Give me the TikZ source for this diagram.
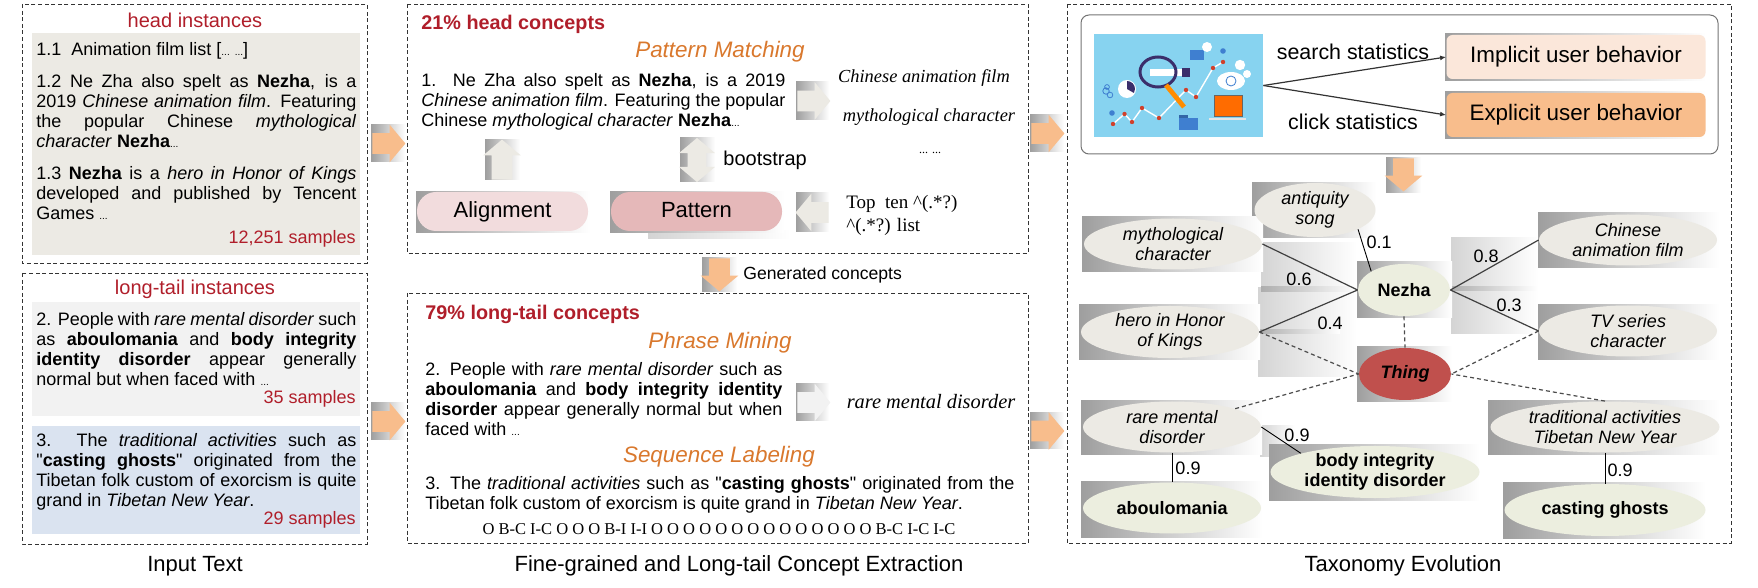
\documentclass[tikz,border=0pt]{standalone}
\usepackage{fontspec}
\setmainfont[Ligatures=TeXOff]{Liberation Sans}
\newfontfamily\timesfont{Liberation Serif}
\usepackage{pgf, tikz}
\usetikzlibrary{positioning, shapes.geometric, shapes.arrows, arrows.meta}

\definecolor{titlered}{HTML}{B01E2A}
\definecolor{stepor}{HTML}{D9782D}
\definecolor{headfill}{HTML}{ECEAE4}
\definecolor{tailfill}{HTML}{F2F2F2}
\definecolor{bluefill}{HTML}{DAE3F0}
\definecolor{peach}{HTML}{F8BD8C}
\definecolor{lightpeach}{HTML}{FBE7DA}
\definecolor{pillpale}{HTML}{F2DCDD}
\definecolor{pillrose}{HTML}{E5B8B9}
\definecolor{instgreen}{HTML}{ECEEDF}
\definecolor{thingred}{HTML}{C0504D}
\definecolor{skypic}{HTML}{87D3F0}
\definecolor{navyring}{HTML}{3B2E6B}
\definecolor{dotred}{HTML}{D0402B}
\definecolor{iconblue}{HTML}{3F7FD0}

\newcommand{\tinydots}{{\fontsize{5}{5}\selectfont...}}

\tikzset{
	panel/.style={dash pattern=on 2pt off 1.3pt, line width=0.45pt, draw=black!80},
	fadebox/.style={left color=black!38, right color=white, draw=none},
	softbox/.style={left color=black!17, right color=white, draw=none},
	stripbox/.style={left color=black!32, right color=white, draw=none},
	bodytext/.style={inner sep=0pt, anchor=north west, align=justify, font=\fontsize{9}{10}\selectfont},
	plaintext/.style={inner sep=0pt, font=\fontsize{10.7}{12}\selectfont},
	redtitle/.style={inner sep=0pt, text=titlered, font=\fontsize{10}{12}\selectfont},
	boldtitle/.style={inner sep=0pt, anchor=west, text=titlered, font=\fontsize{9.9}{12}\selectfont\bfseries},
	samplecount/.style={inner sep=0pt, anchor=east, text=titlered, font=\fontsize{9}{10}\selectfont},
	steptitle/.style={inner sep=0pt, text=stepor, font=\fontsize{11.2}{13}\selectfont\itshape},
	captiontext/.style={inner sep=0pt, font=\fontsize{11}{13}\selectfont},
	serifout/.style={inner sep=0pt, font=\fontsize{9.2}{12}\timesfont\selectfont\itshape},
	flowarrow/.style={single arrow, anchor=tail, inner xsep=0pt, inner ysep=5pt, minimum height=16.5pt, minimum width=18.5pt, single arrow head extend=4.25pt, single arrow head indent=0pt, single arrow tip angle=100, fill=peach},
	palearrow/.style={flowarrow, fill=headfill},
	pill/.style={rounded corners=9.5pt, inner sep=0pt, minimum width=85.5pt, minimum height=19.5pt, text height=8pt, text depth=2pt, font=\fontsize{11}{13}\selectfont},
	behavior/.style={rounded corners=3pt, inner sep=0pt, minimum width=129.5pt, minimum height=22pt, font=\fontsize{11.2}{13}\selectfont},
	concept/.style={ellipse, inner sep=0pt, align=center, fill=headfill, minimum width=89pt, minimum height=25.5pt, font=\fontsize{9}{10}\selectfont\itshape},
	instance/.style={concept, fill=instgreen, font=\fontsize{9}{10}\selectfont\bfseries},
	linkedge/.style={line width=0.6pt, draw=black!75},
	thinedge/.style={line width=0.45pt, draw=black},
	thingedge/.style={dash pattern=on 2pt off 1.5pt, line width=0.6pt, draw=black!70},
	weightlabel/.style={inner sep=0pt, font=\fontsize{9}{10}\selectfont},
	statarrow/.style={line width=0.6pt, draw=black!80, -{Latex[length=3pt, width=2.5pt]}}
}

\begin{document}
\begin{tikzpicture}[x=0.5pt, y=-0.5pt]
	\useasboundingbox (0,0) rectangle (1758,588);

	% input text
	\draw[panel] (22,4) rectangle (367,263);
	\draw[panel] (22,273) rectangle (367,544);
	\fill[headfill] (32,33) rectangle (360,255);
	\fill[tailfill] (32,302) rectangle (360,416);
	\fill[bluefill] (32,426) rectangle (360,534);

	\node[redtitle] (headtitle) at (195,20) {head instances};
	\node[bodytext] (headone) at (36,42) {1.1\ \ Animation film list [\tinydots\ \tinydots]};
	\node[bodytext, text width=160pt] (headtwo) at (36,74) {1.2 Ne Zha also spelt as \textbf{Nezha}, is a\linebreak 2019 \textit{Chinese animation film}. Featuring\linebreak the popular Chinese \textit{mythological}\linebreak \textit{character} \textbf{Nezha}\tinydots};
	\node[bodytext, text width=160pt] (headthree) at (36,166) {1.3 \textbf{Nezha} is a \textit{hero in Honor of Kings}\linebreak developed and published by Tencent\linebreak Games \tinydots};
	\node[samplecount] (headcount) at (356,239) {12,251 samples};

	\node[redtitle] (tailtitle) at (195,289) {long-tail instances};
	\node[bodytext, text width=160pt] (tailtwo) at (36,312) {2. People with \textit{rare mental disorder} such\linebreak as \textbf{aboulomania} and \textbf{body integrity}\linebreak \textbf{identity disorder} appear generally\linebreak normal but when faced with \tinydots};
	\node[samplecount] (tailcount) at (356,399) {35 samples};
	\node[bodytext, text width=160pt] (tailthree) at (36,433) {3. The \textit{traditional activities} such as\linebreak "\textbf{casting ghosts}" originated from the\linebreak Tibetan folk custom of exorcism is quite\linebreak grand in \textit{Tibetan New Year}.};
	\node[samplecount] (bluecount) at (356,520) {29 samples};
	\node[captiontext] (inputcap) at (195,566) {Input Text};

	% arrows out of the first column
	\shade[fadebox] (371,125) rectangle (405,162);
	\node[flowarrow] (arrowone) at (372,143.5) {};
	\shade[fadebox] (371,403) rectangle (405,440);
	\node[flowarrow] (arrowtwo) at (372,421.5) {};

	% concept extraction
	\draw[panel] (407,4) rectangle (1028,253);
	\draw[panel] (407,293) rectangle (1028,543);

	\node[boldtitle] (headpct) at (421,24) {21\% head concepts};
	\node[steptitle] (matching) at (720,52) {Pattern Matching};
	\node[bodytext, text width=182pt] (matchtext) at (421,73) {1. Ne Zha also spelt as \textbf{Nezha}, is a 2019\linebreak \textit{Chinese animation film}. Featuring the popular\linebreak Chinese \textit{mythological character} \textbf{Nezha}\tinydots};

	\shade[fadebox] (796,82) rectangle (829,120);
	\node[palearrow] (matchout) at (797,101) {};
	\node[serifout] (outfilm) at (924,78) {Chinese animation film};
	\node[serifout] (outchar) at (929,117) {mythological character};
	\node[serifout, font=\fontsize{6}{8}\timesfont\selectfont] (outdots) at (930,153) {... ...};

	\shade[fadebox] (485,140) rectangle (520,180);
	\node[palearrow, rotate=90, minimum height=20pt] (alignup) at (502,180) {};
	\shade[fadebox] (680,138) rectangle (715,182);
	\node[double arrow, inner xsep=0pt, inner ysep=4.5pt, minimum height=22pt, minimum width=17.5pt, double arrow head extend=4.25pt, double arrow head indent=0pt, double arrow tip angle=100, rotate=90, fill=headfill] (bootarrow) at (697,160) {};
	\node[plaintext, anchor=west, font=\fontsize{10}{12}\selectfont] (bootstrap) at (723,160) {bootstrap};

	\shade[fadebox] (416,192) rectangle (590,233);
	\node[pill, fill=pillpale] (alignment) at (502.5,211.5) {Alignment};
	\shade[softbox] (648,231) rectangle (790,239);
	\shade[fadebox] (610,192) rectangle (784,233);
	\node[pill, fill=pillrose] (pattern) at (696.5,211.5) {Pattern};

	\shade[fadebox] (796,193) rectangle (829,232);
	\node[palearrow, rotate=180] (patternin) at (829,212.5) {};
	\node[inner sep=0pt, anchor=west, align=left, font=\fontsize{9.5}{11.5}\timesfont\selectfont] (topten) at (846,215.5) {Top\ \ ten \^{}(.*?)\\\^{}(.*?) list};

	\shade[fadebox] (702,258) rectangle (737,292);
	\node[flowarrow, rotate=270] (generated) at (719.5,258) {};
	\node[captiontext, anchor=west, font=\fontsize{8.8}{10}\selectfont] (generatedtext) at (743,275) {Generated concepts};

	\node[boldtitle] (tailpct) at (425,314) {79\% long-tail concepts};
	\node[steptitle] (mining) at (720,343) {Phrase Mining};
	\node[bodytext, text width=178.5pt] (miningtext) at (425,362) {2. People with \textit{rare mental disorder} such as\linebreak \textbf{aboulomania} and \textbf{body integrity identity}\linebreak \textbf{disorder} appear generally normal but when\linebreak faced with \tinydots};
	\shade[fadebox] (796,384) rectangle (829,421);
	\node[palearrow, fill=tailfill] (miningout) at (797,402.5) {};
	\node[serifout, font=\fontsize{10.2}{12}\timesfont\selectfont\itshape] (outrare) at (931,402) {rare mental disorder};
	\node[steptitle] (labeling) at (719,457) {Sequence Labeling};
	\node[bodytext, text width=294.5pt] (labeltext) at (425,476) {3. The \textit{traditional activities} such as "\textbf{casting ghosts}" originated from the\linebreak Tibetan folk custom of exorcism is quite grand in \textit{Tibetan New Year}.};
	\node[inner sep=0pt, font=\fontsize{8.25}{10}\timesfont\selectfont] (labelseq) at (719,529) {O B-C I-C O O O B-I I-I O O O O O O O O O O O O O O B-C I-C I-C};
	\node[captiontext] (extractcap) at (739,566) {Fine-grained and Long-tail Concept Extraction};

	% arrows into taxonomy
	\shade[fadebox] (1030,115) rectangle (1064,152);
	\node[flowarrow] (arrowthree) at (1031,133.5) {};
	\shade[fadebox] (1030,413) rectangle (1064,449);
	\node[flowarrow] (arrowfour) at (1031,431) {};

	% taxonomy evolution
	\draw[panel] (1067,4) rectangle (1731,543);
	\draw[line width=0.5pt, draw=black!55, rounded corners=4pt] (1081,15) rectangle (1718,154);

	\node[fill=skypic, inner sep=0pt, minimum width=84.5pt, minimum height=51.5pt] (statspic) at (1178.5,85.5) {};
	\draw[white, line width=0.7pt] (1113,124) -- (1124.5,114) -- (1132,122) -- (1142,108) -- (1159,118) -- (1186,90) -- (1196,97) -- (1213,68) -- (1223,62);
	\foreach \dotx/\doty in {1113/124, 1124.5/114, 1132/122, 1142/108, 1159/118, 1186/90, 1196/97, 1213/68, 1223/62}
		\fill[dotred] (\dotx,\doty) circle (1.1pt);
	\fill[white] (1150,69) rectangle (1183,76);
	\fill[navyring] (1182,68) rectangle (1190,77);
	\draw[navyring, line width=1.5pt] (1158,72) ellipse (9pt and 7.5pt);
	\draw[line width=2.4pt, draw=orange!90!yellow] (1166,85) -- (1184,107);
	\fill[white] (1231,81) ellipse (7pt and 4.5pt);
	\fill[white] (1240,65) circle (2.6pt);
	\fill[white] (1247,74) circle (2pt);
	\draw[iconblue, line width=0.4pt] (1231,81) circle (2.5pt);
	\fill[white!90!black] (1209,118.5) rectangle (1246,120);
	\fill[black!60] (1214,95) rectangle (1243,117);
	\fill[orange!85!red] (1215,96) rectangle (1242,116);
	\fill[iconblue] (1179,118) rectangle (1198,130);
	\fill[iconblue!80!black] (1179,115.5) rectangle (1188,118);
	\fill[iconblue] (1190,50) rectangle (1204,60);
	\fill[white] (1207,47) circle (2.5pt);
	\fill[iconblue] (1223,51) circle (1.4pt);
	\fill[iconblue] (1112,113) circle (1.4pt);
	\fill[white] (1127,89) circle (4.5pt);
	\fill[navyring] (1127,89) -- (1127,81) arc (90:-30:4pt) -- cycle;
	\draw[iconblue, line width=0.4pt] (1106,91) circle (1.6pt) (1110,95) circle (1.4pt) (1107,87) circle (1.2pt);

	\shade[fadebox] (1445,34) rectangle (1706,81);
	\node[behavior, fill=lightpeach] (implicit) at (1576,57) {Implicit user behavior};
	\shade[fadebox] (1445,92) rectangle (1706,139);
	\node[behavior, fill=peach] (explicit) at (1576,115) {Explicit user behavior};
	\draw[statarrow] (statspic.east) -- (implicit.west);
	\draw[statarrow] (statspic.east) -- (explicit.west);
	\node[plaintext] (searchstat) at (1353,52) {search statistics};
	\node[plaintext] (clickstat) at (1353,122) {click statistics};

	\shade[fadebox] (1386,158) rectangle (1421,193);
	\node[flowarrow, rotate=270] (arrowfive) at (1403.5,158) {};

	% shaded backs of the graph
	\shade[softbox] (1261,243) rectangle (1357,292);
	\shade[softbox] (1258,288) rectangle (1357,377);
	\shade[softbox] (1451,238) rectangle (1538,334);
	\shade[stripbox] (1261,287) rectangle (1357,292);
	\shade[stripbox] (1451,287) rectangle (1538,291);
	\shade[stripbox] (1258,330) rectangle (1340,334);
	\shade[softbox] (1260,426) rectangle (1295,457);
	\shade[fadebox] (1252,183) rectangle (1376,238);
	\shade[fadebox] (1082,217) rectangle (1263,272);
	\shade[fadebox] (1079,305) rectangle (1260,360);
	\shade[fadebox] (1357,262) rectangle (1452,318);
	\shade[fadebox] (1357,347) rectangle (1452,402);
	\shade[fadebox] (1538,213) rectangle (1719,268);
	\shade[fadebox] (1538,305) rectangle (1719,360);
	\shade[fadebox] (1081,401) rectangle (1262,455);
	\shade[fadebox] (1488,401) rectangle (1720,455);
	\shade[fadebox] (1269,445) rectangle (1480,500);
	\shade[fadebox] (1081,481) rectangle (1262,537);
	\shade[fadebox] (1503,482) rectangle (1706,538);

	\node[concept, minimum width=60.5pt, minimum height=27pt] (antiquity) at (1315,210) {antiquity\\song};
	\node[concept] (mythchar) at (1173,244) {mythological\\character};
	\node[concept] (heroking) at (1170,332) {hero in Honor\\of Kings};
	\node[instance, minimum width=46pt, minimum height=26pt] (nezha) at (1404,290) {Nezha};
	\node[concept, fill=thingred, minimum width=46pt, minimum height=26pt, font=\fontsize{9}{10}\selectfont\bfseries\itshape] (thing) at (1405,374) {Thing};
	\node[concept] (filmnode) at (1628,240) {Chinese\\animation film};
	\node[concept] (tvnode) at (1628,331) {TV series\\character};
	\node[concept] (rarenode) at (1172,427) {rare mental\\disorder};
	\node[concept, minimum width=114.5pt] (tradnode) at (1605,427) {traditional activities\\Tibetan New Year};
	\node[instance, minimum width=104.5pt] (bodynode) at (1375,472) {body integrity\\identity disorder};
	\node[instance] (aboulnode) at (1172,508) {aboulomania};
	\node[instance, minimum width=100.5pt, minimum height=26pt] (castnode) at (1605,510) {casting ghosts};

	\draw[thinedge] (antiquity.south east) -- (nezha.north west);
	\draw[linkedge] (mythchar.east) -- (nezha.west);
	\draw[linkedge] (heroking.east) -- (nezha.west);
	\draw[linkedge] (nezha.east) -- (filmnode.west);
	\draw[linkedge] (nezha.east) -- (tvnode.west);
	\draw[thingedge] (nezha.south) -- (thing.north);
	\draw[thingedge] (heroking.east) -- (thing.west);
	\draw[thingedge] (tvnode.west) -- (thing.east);
	\draw[thingedge] (rarenode.north east) -- (thing.west);
	\draw[thingedge] (tradnode.north) -- (thing.east);
	\draw[thinedge] (rarenode.east) -- (bodynode.north west);
	\draw[thinedge] (rarenode.south) -- (aboulnode.north);
	\draw[thinedge] (tradnode.south) -- (castnode.north);

	\node[weightlabel] (wantiquity) at (1379,242) {0.1};
	\node[weightlabel] (wmyth) at (1299,279) {0.6};
	\node[weightlabel] (whero) at (1330,323) {0.4};
	\node[weightlabel] (wfilm) at (1486,256) {0.8};
	\node[weightlabel] (wtv) at (1509,305) {0.3};
	\node[weightlabel] (wbody) at (1297,435) {0.9};
	\node[weightlabel] (waboul) at (1188,468) {0.9};
	\node[weightlabel] (wcast) at (1620,470) {0.9};

	\node[captiontext] (taxcap) at (1403,566) {Taxonomy Evolution};
\end{tikzpicture}
\end{document}
